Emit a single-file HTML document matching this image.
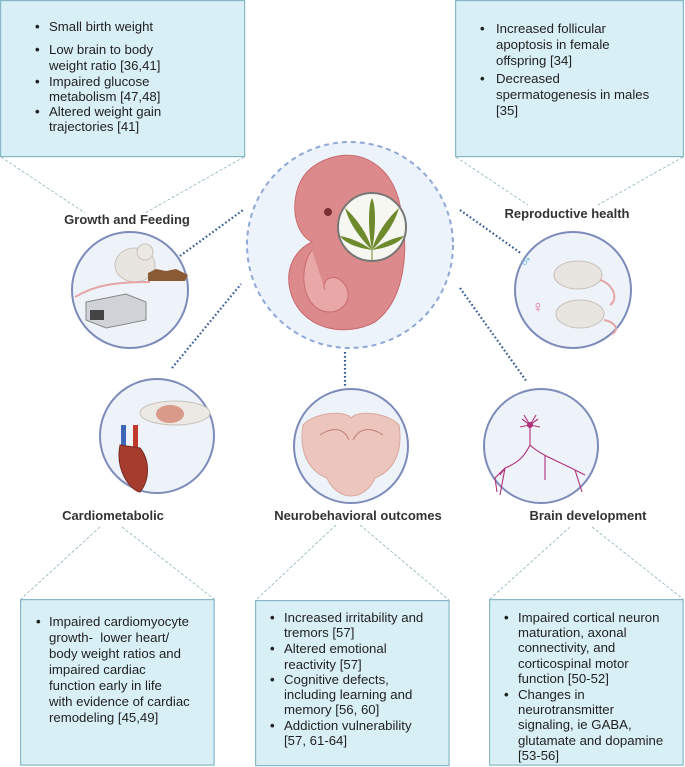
<!DOCTYPE html>
<html><head><meta charset="utf-8"><style>
html,body{margin:0;padding:0;background:#fff;}
svg{display:block;}
text{font-family:"Liberation Sans",Arial,sans-serif;fill:#222;}
.t{font-size:13.2px;}
.b{font-weight:bold;}
.h{font-size:13px;font-weight:bold;fill:#333;}
</style></head><body>
<svg width="685" height="767" viewBox="0 0 685 767" xmlns="http://www.w3.org/2000/svg">
<g fill="#d9eff6" stroke="#86b8c8" stroke-width="1.2">
<rect x="0.6" y="0.6" width="244" height="156"/>
<rect x="455.6" y="0.6" width="227.8" height="156"/>
<rect x="20.6" y="599.6" width="193.5" height="165.5"/>
<rect x="255.6" y="600.6" width="193.5" height="165"/>
<rect x="489.6" y="599.6" width="193.5" height="165.5"/>
</g>
<g stroke="#8ab3bd" stroke-width="0.8" stroke-dasharray="3,2" fill="none">
<line x1="1" y1="157" x2="85" y2="213"/><line x1="244" y1="157" x2="145" y2="213"/>
<line x1="456" y1="157" x2="528" y2="205"/><line x1="683" y1="157" x2="598" y2="205"/>
<line x1="100" y1="527" x2="21" y2="599"/><line x1="122" y1="527" x2="214" y2="599"/>
<line x1="336" y1="525" x2="256" y2="600"/><line x1="360" y1="525" x2="449" y2="600"/>
<line x1="570" y1="527" x2="490" y2="599"/><line x1="592" y1="527" x2="683" y2="599"/>
</g>
<g stroke="#2f5a94" stroke-width="2.2" stroke-dasharray="1.6,2.4" fill="none">
<line x1="180" y1="256" x2="243" y2="210"/>
<line x1="460" y1="210" x2="522" y2="254"/>
<line x1="172" y1="368" x2="241" y2="284"/>
<line x1="345" y1="352" x2="345" y2="388"/>
<line x1="460" y1="288" x2="527" y2="382"/>
</g>
<circle cx="350" cy="245" r="103" fill="#edf3fb" stroke="#8ea9d8" stroke-width="2" stroke-dasharray="5,4"/>
<path d="M330 158 C360 148 392 165 400 205 C410 250 405 300 375 322 C345 338 300 330 290 290 C285 268 295 250 312 242 C298 235 292 215 296 195 C300 175 312 164 330 158 Z" fill="#dc8a8c" stroke="#c96a6e" stroke-width="1"/>
<path d="M312 250 C300 265 300 300 320 310 C340 318 355 300 345 285 C335 270 320 280 325 290" fill="#e9a7a8" stroke="#c96a6e" stroke-width="1"/>
<circle cx="328" cy="212" r="4" fill="#7a2f35"/>
<circle cx="372" cy="227" r="34" fill="#f7f7f2" stroke="#777" stroke-width="2"/>
<g fill="#6d8a2c">
<path d="M372 250 C368 230 368 205 372 198 C376 205 376 230 372 250Z"/>
<path d="M372 250 C360 238 350 225 345 208 C358 220 368 235 372 250Z"/>
<path d="M372 250 C384 238 394 225 399 208 C386 220 376 235 372 250Z"/>
<path d="M372 250 C358 248 346 244 340 236 C352 238 364 244 372 250Z"/>
<path d="M372 250 C386 248 398 244 404 236 C392 238 380 244 372 250Z"/>
</g>
<line x1="372" y1="250" x2="372" y2="260" stroke="#6d8a2c" stroke-width="1"/>
<g fill="#eef3fa" stroke="#7c8bba" stroke-width="2">
<circle cx="130" cy="290" r="58"/>
<circle cx="573" cy="290" r="58"/>
<circle cx="157" cy="436" r="57"/>
<circle cx="351" cy="446" r="57"/>
<circle cx="541" cy="446" r="57"/>
</g>
<ellipse cx="135" cy="265" rx="20" ry="17" fill="#e8e4df" stroke="#c9c2bb"/>
<circle cx="145" cy="252" r="8" fill="#ece8e3" stroke="#c9c2bb"/>
<path d="M75 297 C95 285 115 282 150 282" stroke="#e5a5a5" stroke-width="2" fill="none"/>
<path d="M148 273 l8 -4 l10 2 l10 -2 l12 6 l-3 6 h-37z" fill="#8a5a35"/>
<path d="M86 302 l40 -8 l20 8 l0 18 l-40 8 l-20 -8z" fill="#cfd2d6" stroke="#888"/>
<rect x="90" y="310" width="14" height="10" fill="#444"/>
<text x="520" y="267" font-size="16" style="fill:#5ab4e8">♂</text>
<text x="532" y="312" font-size="16" style="fill:#e06a9a">♀</text>
<ellipse cx="578" cy="275" rx="24" ry="14" fill="#e8e4df" stroke="#c9c2bb"/>
<ellipse cx="580" cy="314" rx="24" ry="14" fill="#e8e4df" stroke="#c9c2bb"/>
<path d="M600 280 C615 285 618 300 610 305 M604 320 C615 322 620 330 612 334" stroke="#e5a5a5" stroke-width="2" fill="none"/>
<ellipse cx="175" cy="413" rx="35" ry="12" fill="#ece8e3" stroke="#c9c2bb"/>
<ellipse cx="170" cy="414" rx="14" ry="9" fill="#d99a8a"/>
<rect x="121" y="425" width="5" height="24" fill="#3d68b8"/><rect x="133" y="425" width="5" height="22" fill="#c0392b"/>
<path d="M120 445 C115 470 130 490 140 492 C150 480 150 460 140 448 Z" fill="#a53c2e" stroke="#7a2a20"/>
<path d="M303 425 C315 412 345 410 351 418 C357 410 387 412 399 425 C403 450 395 470 375 478 C370 490 360 496 351 496 C342 496 332 490 327 478 C307 470 299 450 303 425Z" fill="#ecc5bd" stroke="#d9a89e"/>
<path d="M320 435 C335 425 345 430 349 440 M383 435 C368 425 358 430 353 440" stroke="#c07e78" fill="none"/>
<g stroke="#b0307a" stroke-width="1.1" fill="none">
<path d="M530 425 L530 445 C525 455 520 462 505 468 L500 495 M505 468 L500 475 M530 445 C540 455 560 462 575 470 L582 492 M575 470 L585 475 M545 456 L545 480 M505 468 L495 478 L497 492"/>
<path d="M530 425 l-8 -6 M530 425 l8 -6 M530 425 l-6 -10 M530 425 l6 -10 M530 425 l-10 2 M530 425 l10 2"/>
</g>
<circle cx="530" cy="425" r="3" fill="#b0307a"/>
<text class="h" x="127" y="224" text-anchor="middle">Growth and Feeding</text>
<text class="h" x="567" y="218" text-anchor="middle">Reproductive health</text>
<text class="h" x="113" y="520" text-anchor="middle">Cardiometabolic</text>
<text class="h" x="358" y="520" text-anchor="middle">Neurobehavioral outcomes</text>
<text class="h" x="588" y="520" text-anchor="middle">Brain development</text>
<g class="t">
<text class="b" x="35" y="31">•</text><text x="49" y="31">Small birth weight</text>
<text class="b" x="35" y="54">•</text><text x="49" y="54">Low brain to body</text>
<text x="49" y="70">weight ratio [36,41]</text>
<text class="b" x="35" y="86">•</text><text x="49" y="86">Impaired glucose</text>
<text x="49" y="101">metabolism [47,48]</text>
<text class="b" x="35" y="116">•</text><text x="49" y="116">Altered weight gain</text>
<text x="49" y="131">trajectories [41]</text>
</g>
<g class="t">
<text class="b" x="480" y="33">•</text><text x="496" y="33">Increased follicular</text>
<text x="496" y="49">apoptosis in female</text>
<text x="496" y="65">offspring [34]</text>
<text class="b" x="480" y="83">•</text><text x="496" y="83">Decreased</text>
<text x="496" y="99">spermatogenesis in males</text>
<text x="496" y="115">[35]</text>
</g>
<g class="t">
<text class="b" x="36" y="626">•</text><text x="49" y="626">Impaired cardiomyocyte</text>
<text x="49" y="642">growth-&#160; lower heart/</text>
<text x="49" y="658">body weight ratios and</text>
<text x="49" y="674">impaired cardiac</text>
<text x="49" y="690">function early in life</text>
<text x="49" y="706">with evidence of cardiac</text>
<text x="49" y="722">remodeling [45,49]</text>
</g>
<g class="t">
<text class="b" x="270" y="622">•</text><text x="284" y="622">Increased irritability and</text>
<text x="284" y="637">tremors [57]</text>
<text class="b" x="270" y="653">•</text><text x="284" y="653">Altered emotional</text>
<text x="284" y="669">reactivity [57]</text>
<text class="b" x="270" y="684">•</text><text x="284" y="684">Cognitive defects,</text>
<text x="284" y="699">including learning and</text>
<text x="284" y="714">memory [56, 60]</text>
<text class="b" x="270" y="730">•</text><text x="284" y="730">Addiction vulnerability</text>
<text x="284" y="745">[57, 61-64]</text>
</g>
<g class="t">
<text class="b" x="504" y="622">•</text><text x="518" y="622">Impaired cortical neuron</text>
<text x="518" y="637">maturation, axonal</text>
<text x="518" y="652">connectivity, and</text>
<text x="518" y="668">corticospinal motor</text>
<text x="518" y="683">function [50-52]</text>
<text class="b" x="504" y="699">•</text><text x="518" y="699">Changes in</text>
<text x="518" y="714">neurotransmitter</text>
<text x="518" y="729">signaling, ie GABA,</text>
<text x="518" y="745">glutamate and dopamine</text>
<text x="518" y="760">[53-56]</text>
</g>
</svg>
</body></html>
